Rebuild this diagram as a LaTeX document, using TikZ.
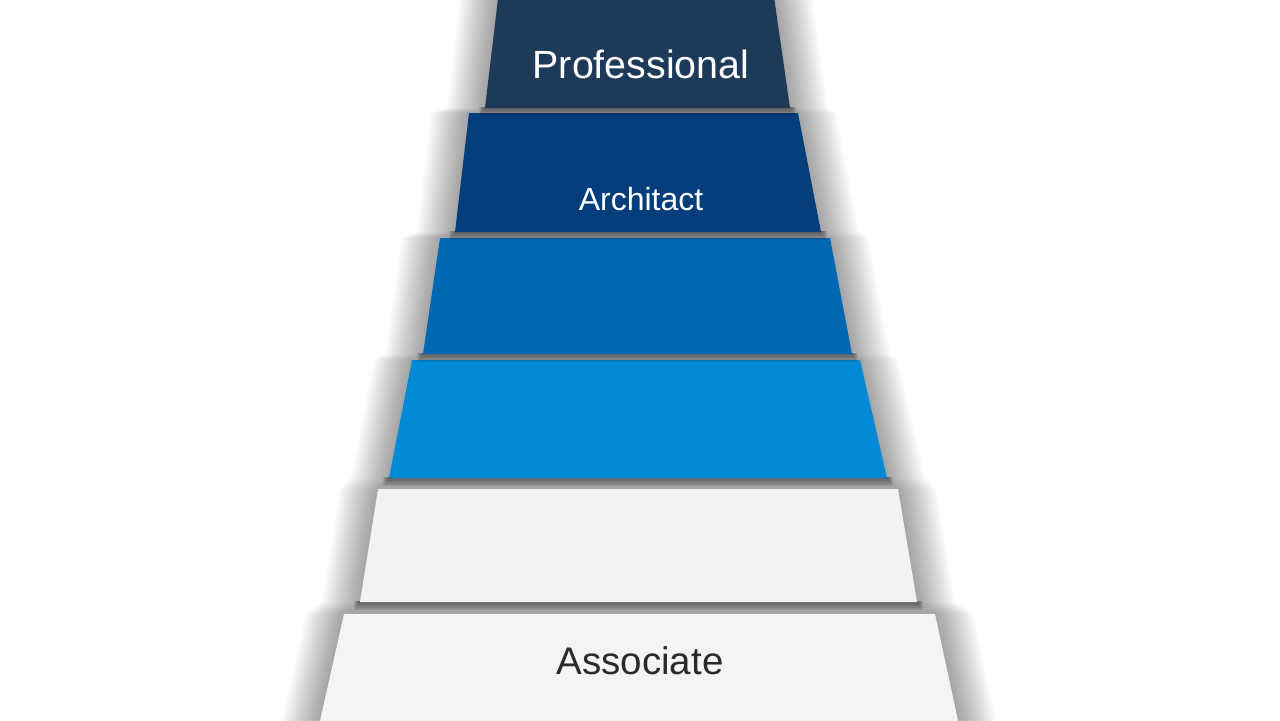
\documentclass[tikz,border=0pt]{standalone}
\usepackage{fontspec}
\setmainfont{Liberation Sans}
\definecolor{tierNavy}{HTML}{1E3A59}
\definecolor{tierDeep}{HTML}{053E7B}
\definecolor{tierMid}{HTML}{0068B3}
\definecolor{tierSky}{HTML}{0089D5}
\definecolor{tierPale}{HTML}{F2F2F2}
\definecolor{tierBase}{HTML}{F4F4F4}
\definecolor{tierInk}{HTML}{2A2A2A}
\begin{document}
\begin{tikzpicture}[x=0.01cm, y=-0.01cm, tiertext/.style={inner sep=0pt, anchor=base, text=white}]
        \useasboundingbox (0,0) rectangle (1280,720);
        \clip (0,0) rectangle (1280,720);
        \fill[white] (0,0) rectangle (1280,720);

        % soft shadow along both flanks of the stack
        \foreach \i [evaluate=\i as \s using \i*2.7] in {1,...,14}
            \fill[black, opacity=0.026] (499-\s,-10) -- (485-\s,108) -- (469-\s,113) -- (455-\s,232) -- (440-\s,238) -- (423-\s,354) -- (412-\s,360) -- (389-\s,478) -- (378-\s,489) -- (360-\s,602) -- (344-\s,614) -- (318-\s,730) -- (960+\s,730) -- (935+\s,614) -- (917+\s,602) -- (898+\s,489) -- (887+\s,478) -- (860+\s,360) -- (852+\s,354) -- (830+\s,238) -- (821+\s,232) -- (798+\s,113) -- (790+\s,108) -- (773+\s,-10) -- cycle;

        % tiers from the bottom up: top y / top left / top right / bottom y / bottom left / bottom right / colour
        \foreach \ty/\tl/\tr/\by/\bl/\br/\col in {614/344/935/730/318/960/tierBase, 489/378/898/602/360/917/tierPale, 360/412/860/478/389/887/tierSky, 238/440/830/354/423/852/tierMid, 113/469/798/232/455/821/tierDeep, -10/499/773/108/485/790/tierNavy}{
            \foreach \i in {1,...,6}
                \fill[black, opacity=0.08] (\bl-\i,\by-1) -- (\br+\i,\by-1) -- (\br+\i,\by+\i*1.4) -- (\bl-\i,\by+\i*1.4) -- cycle;
            \fill[\col] (\tl,\ty) -- (\tr,\ty) -- (\br,\by) -- (\bl,\by) -- cycle;
        }

        \node(professional)[tiertext, font=\fontsize{11.2}{13}\selectfont] at (641,78){Professional};
        \node(architact)[tiertext, font=\fontsize{9.1}{11}\selectfont] at (641,210){Architact};
        \node(associate)[tiertext, text=tierInk, font=\fontsize{10.95}{13}\selectfont] at (640,674){Associate};
    \end{tikzpicture}
\end{document}
